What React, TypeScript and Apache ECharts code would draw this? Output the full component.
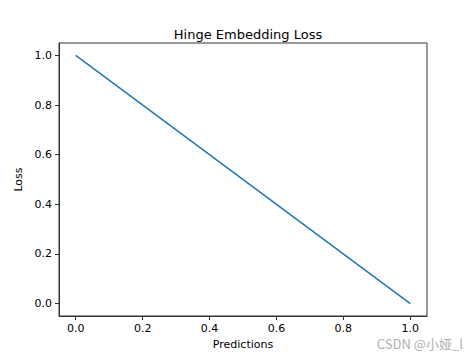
import React, { useEffect, useRef } from "react";
import * as echarts from "echarts";

const predictions = [0.0, 1.0];
const loss = [1.0, 0.0];
const xTicks = [0, 0.2, 0.4, 0.6, 0.8, 1.0];
const yTicks = [0, 0.2, 0.4, 0.6, 0.8, 1.0];
const titleText = "Hinge Embedding Loss";
const xName = "Predictions";
const yName = "Loss";
const watermark = "CSDN @小娅_l";

const FONT = "DejaVu Sans";

export default function App() {
  const ref = useRef<HTMLDivElement>(null);
  useEffect(() => {
    const chart = echarts.init(ref.current!, null, { renderer: "svg" });
    const axisCommon = {
      type: "value" as const,
      min: -0.05,
      max: 1.05,
      nameLocation: "middle" as const,
      nameTextStyle: { fontFamily: FONT, fontSize: 11, color: "#000" },
      axisLine: { show: true, onZero: false, lineStyle: { color: "#333", width: 1 } },
      splitLine: { show: false },
      axisTick: { show: true, inside: false, length: 4, lineStyle: { color: "#333" } },
      axisLabel: {
        fontFamily: FONT,
        fontSize: 11,
        color: "#000",
        margin: 7,
        formatter: (v: number) => v.toFixed(1),
      },
    };
    chart.setOption({
      animation: false,
      backgroundColor: "#fff",
      title: {
        text: titleText,
        left: 243,
        textAlign: "center",
        top: 23,
        textStyle: { fontFamily: FONT, fontSize: 13, fontWeight: "normal", color: "#000" },
      },
      grid: {
        left: 59,
        top: 43,
        right: 47,
        bottom: 39,
        show: true,
        borderColor: "#333",
        borderWidth: 1,
        backgroundColor: "transparent",
      },
      xAxis: {
        ...axisCommon,
        name: xName,
        nameGap: 20,
        axisTick: { ...axisCommon.axisTick, customValues: xTicks },
        axisLabel: { ...axisCommon.axisLabel, customValues: xTicks },
      },
      yAxis: {
        ...axisCommon,
        name: yName,
        nameGap: 28,
        axisTick: { ...axisCommon.axisTick, customValues: yTicks },
        axisLabel: { ...axisCommon.axisLabel, customValues: yTicks },
      },
      series: [
        {
          type: "line",
          data: predictions.map((p, i) => [p, loss[i]]),
          showSymbol: false,
          lineStyle: { color: "#1f77b4", width: 1.5 },
        },
      ],
      graphic: [
        {
          type: "text",
          right: 11,
          top: 337,
          style: {
            text: watermark,
            fontFamily: "Noto Sans CJK SC",
            fontSize: 13,
            fill: "#b0b0b0",
          },
        },
      ],
    });
    return () => chart.dispose();
  }, []);
  return <div ref={ref} style={{ width: 474, height: 355, position: "absolute", left: 0, top: 0 }} />;
}
